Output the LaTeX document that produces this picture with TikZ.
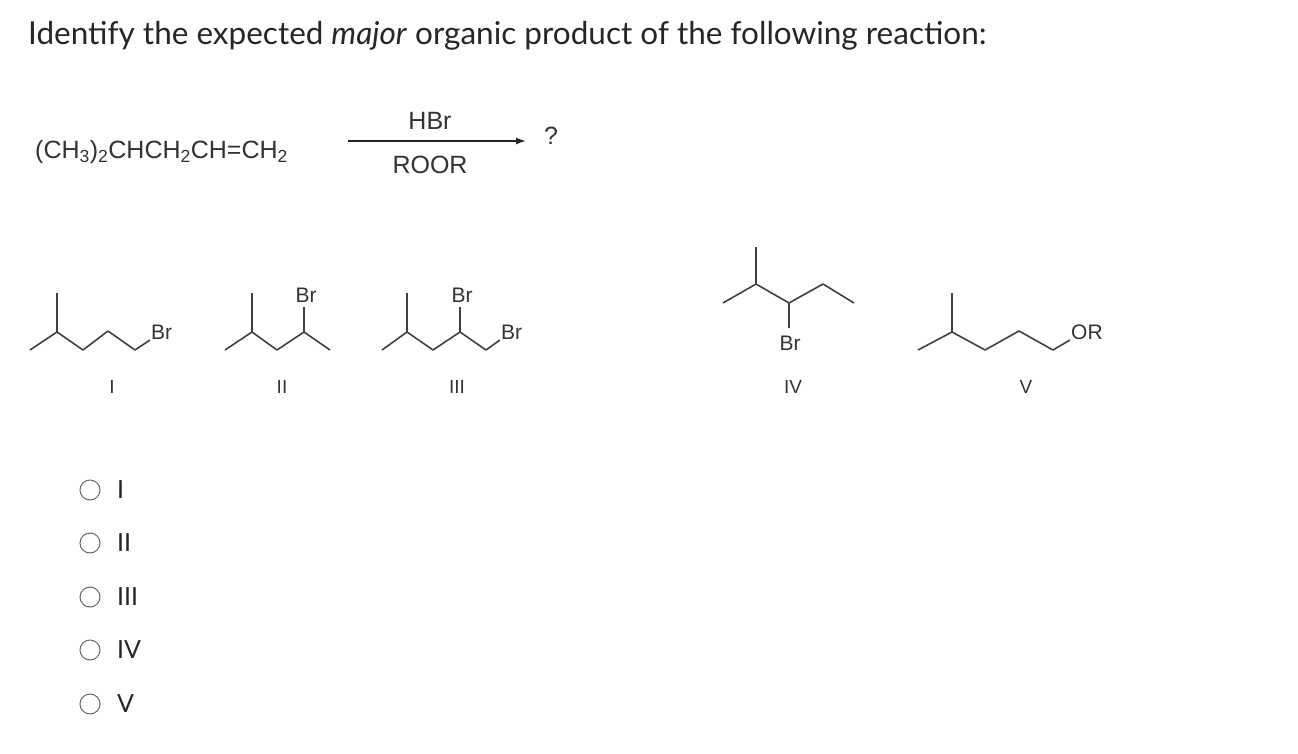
\documentclass[tikz,border=0pt]{standalone}
\usepackage{fontspec}
\usetikzlibrary{arrows.meta}
\setmainfont{Lato}
\newfontfamily\arial{Liberation Sans}
\begin{document}
\begin{tikzpicture}[x=1pt,y=-1pt,
  bond/.style={draw=black!75,line width=1.6pt},
  chem/.style={font=\arial\fontsize{25}{28}\selectfont,text=black!80,inner sep=0pt},
  brs/.style={font=\arial\fontsize{21}{24}\selectfont,text=black!80,inner sep=0pt},
  num/.style={font=\arial\fontsize{19}{22}\selectfont,text=black!80,inner sep=0pt},
  radio/.style={draw=black!60,line width=1pt,circle,minimum size=20pt,inner sep=0pt},
  opt/.style={font=\fontsize{25}{28}\selectfont,text=black!85,anchor=west,inner sep=0pt}]
\useasboundingbox (0,0) rectangle (1298,754);
\node[anchor=west,inner sep=0pt,font=\fontsize{31.5}{36}\selectfont,text=black!85] (title) at (28,36) {Identify the expected \textit{major} organic product of the following reaction:};
% reaction
\node[chem,anchor=west] (reac) at (35,152) {(CH\textsubscript{3})\textsubscript{2}CHCH\textsubscript{2}CH=CH\textsubscript{2}};
\coordinate (a1) at (348,141); \coordinate (a2) at (526,141);
\draw[black!85,line width=1.4pt,-{Latex[length=10pt,width=7pt]}] (a1) -- (a2);
\node[chem] (hbr) at (430,121) {HBr};
\node[chem] (roor) at (430,165) {ROOR};
\node[chem] (q) at (551,136) {?};
% I
\draw[bond,line join=round] (30,350) -- (57,332) -- (83,350) -- (108,331) -- (135,350) -- (150,340);
\draw[bond] (57,332) -- (57,293);
\node[brs,anchor=west] (brI) at (151,332) {Br};
\node[num] (lI) at (112,387) {I};
% II
\draw[bond,line join=round] (225,350) -- (252,332) -- (277,350) -- (304,332) -- (330,350);
\draw[bond] (252,332) -- (252,293);
\draw[bond] (304,332) -- (304,307);
\node[brs] (brII) at (306,295) {Br};
\node[num] (lII) at (282,387) {II};
% III
\draw[bond,line join=round] (382,350) -- (407,332) -- (433,350) -- (460,332) -- (486,350) -- (500,340);
\draw[bond] (407,332) -- (407,293);
\draw[bond] (460,332) -- (460,307);
\node[brs] (brIII) at (462,295) {Br};
\node[brs,anchor=west] (brIIIb) at (501,332) {Br};
\node[num] (lIII) at (457,387) {III};
% IV
\draw[bond,line join=round] (723,303) -- (756,284) -- (789,303) -- (823,284) -- (854,303);
\draw[bond] (756,284) -- (756,247);
\draw[bond] (789,303) -- (789,328);
\node[brs] (brIV) at (790,343) {Br};
\node[num] (lIV) at (793,387) {IV};
% V
\draw[bond,line join=round] (918,350) -- (952,332) -- (985,350) -- (1019,331) -- (1053,350) -- (1070,340);
\draw[bond] (952,332) -- (952,293);
\node[brs,anchor=west] (or) at (1071,332) {OR};
\node[num] (lV) at (1026,387) {V};
% options
\foreach \y/\t [count=\i] in {490/I,543/II,597/III,650/IV,704/V}{
  \node[radio] (r\i) at (90,\y) {};
  \node[opt] (o\i) at (117,\y) {\t};
}
\end{tikzpicture}
\end{document}
